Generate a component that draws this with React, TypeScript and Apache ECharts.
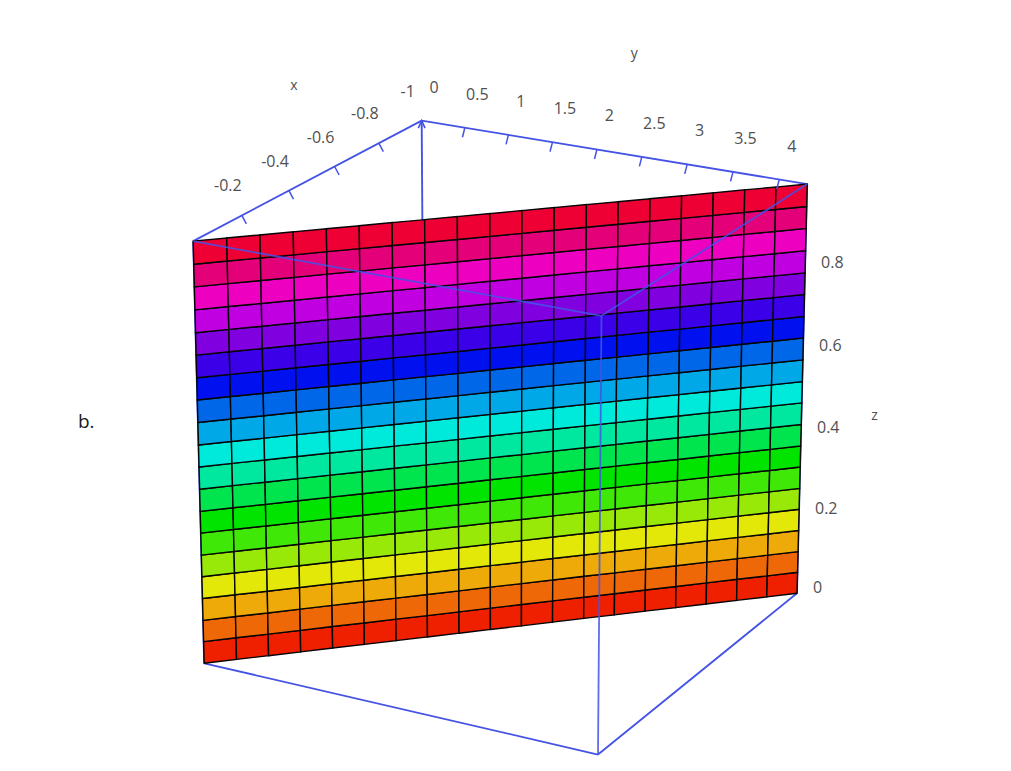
import React, { useEffect, useRef } from "react";
import * as echarts from "echarts";

// Surface samples: each column is an (x, y) pair on the diagonal plane, each row a height z
const surfaceX = [0, -0.053, -0.105, -0.158, -0.211, -0.263, -0.316, -0.368, -0.421, -0.474, -0.526, -0.579, -0.632, -0.684, -0.737, -0.789, -0.842, -0.895, -0.947, -1];
const surfaceY = [0, 0.226, 0.453, 0.679, 0.905, 1.132, 1.358, 1.584, 1.811, 2.037, 2.263, 2.489, 2.716, 2.942, 3.168, 3.395, 3.621, 3.847, 4.074, 4.3];
const surfaceZ = [0, 0.053, 0.105, 0.158, 0.211, 0.263, 0.316, 0.368, 0.421, 0.474, 0.526, 0.579, 0.632, 0.684, 0.737, 0.789, 0.842, 0.895, 0.947, 1];
const rowColors = [
  "#ee2000", "#ef6808", "#eeaa08", "#e4e808", "#98e808", "#40e808", "#00e400", "#00e44e", "#00e8a0", "#00eadc",
  "#00a8e8", "#0068e8", "#0010ee", "#3c00e8", "#8000e0", "#c000e0", "#ee00c0", "#e40078", "#ee0035",
];

// Axis ticks
const xTicks = [-0.8, -0.6, -0.4, -0.2];
const xLabels = [-1, -0.8, -0.6, -0.4, -0.2];
const yTicks = [0.5, 1, 1.5, 2, 2.5, 3, 3.5, 4];
const yLabels = [0, 0.5, 1, 1.5, 2, 2.5, 3, 3.5, 4];
const zLabels = [0, 0.2, 0.4, 0.6, 0.8];

const xRange = [-1, 0];
const yRange = [0, 4.3];
const zRange = [0, 1];

// Screen positions of the visible box corners, [u, v, w, px, py]; used only to calibrate the camera
const calibration = [
  [0, 0, 1, 421.7, 120.7],
  [1, 0, 1, 193.3, 241],
  [0, 1, 1, 807.5, 184],
  [1, 1, 1, 601, 316],
  [1, 0, 0, 204, 663.3],
  [0, 1, 0, 796.7, 593.3],
  [1, 1, 0, 598.5, 754.5],
];

function solveCamera(): number[] {
  const A: number[][] = [];
  const b: number[] = [];
  for (const [u, v, w, px, py] of calibration) {
    A.push([1, u, v, w, 0, 0, 0, 0, -px * u, -px * v, -px * w]);
    b.push(px);
    A.push([0, 0, 0, 0, 1, u, v, w, -py * u, -py * v, -py * w]);
    b.push(py);
  }
  const n = 11;
  const M: number[][] = [];
  for (let i = 0; i < n; i++) {
    const row: number[] = [];
    for (let j = 0; j < n; j++) {
      let s = 0;
      for (let k = 0; k < A.length; k++) s += A[k][i] * A[k][j];
      row.push(s);
    }
    let s = 0;
    for (let k = 0; k < A.length; k++) s += A[k][i] * b[k];
    row.push(s);
    M.push(row);
  }
  for (let c = 0; c < n; c++) {
    let p = c;
    for (let r = c + 1; r < n; r++) if (Math.abs(M[r][c]) > Math.abs(M[p][c])) p = r;
    [M[c], M[p]] = [M[p], M[c]];
    for (let r = 0; r < n; r++) {
      if (r === c) continue;
      const f = M[r][c] / M[c][c];
      for (let j = c; j <= n; j++) M[r][j] -= f * M[c][j];
    }
  }
  return M.map((r, i) => r[n] / r[i]);
}

const cam = solveCamera();

function project(x: number, y: number, z: number): number[] {
  const u = (x - xRange[0]) / (xRange[1] - xRange[0]);
  const v = (y - yRange[0]) / (yRange[1] - yRange[0]);
  const w = (z - zRange[0]) / (zRange[1] - zRange[0]);
  const d = 1 + cam[8] * u + cam[9] * v + cam[10] * w;
  return [(cam[0] + cam[1] * u + cam[2] * v + cam[3] * w) / d, (cam[4] + cam[5] * u + cam[6] * v + cam[7] * w) / d];
}

const AXIS = "#4453e4";
const TEXT = "#505050";
const FONT = '"Open Sans", "Noto Sans", sans-serif';

const [x0, x1] = xRange;
const [y0, y1] = yRange;
const [z0, z1] = zRange;

// Box edges hidden behind the surface
const backEdges = [
  [x0, y0, z0, x0, y0, z1],
  [x0, y0, z0, x1, y0, z0],
  [x0, y0, z0, x0, y1, z0],
];
// Box edges in front of or beside the surface
const outerEdges = [
  [x0, y0, z1, x1, y0, z1],
  [x0, y0, z1, x0, y1, z1],
  [x1, y0, z0, x1, y1, z0],
  [x0, y1, z0, x1, y1, z0],
  [x1, y0, z0, x1, y0, z1],
  [x0, y1, z0, x0, y1, z1],
];
const frontEdges = [
  [x1, y0, z1, x1, y1, z1],
  [x0, y1, z1, x1, y1, z1],
  [x1, y1, z0, x1, y1, z1],
];

const cells: number[][] = [];
for (let r = 0; r < surfaceZ.length - 1; r++) for (let c = 0; c < surfaceX.length - 1; c++) cells.push([c, r]);

type Lbl = { text: string; x: number; y: number; z: number; dx: number; dy: number; align: string; size: number };
const labels: Lbl[] = [
  ...xLabels.map((v) => ({ text: String(v), x: v, y: y0, z: z1, dx: -14, dy: -30, align: "center", size: 16 })),
  ...yLabels.map((v) => ({ text: String(v), x: x0, y: v, z: z1, dx: 12.5, dy: -34, align: "center", size: 16 })),
  ...zLabels.map((v) => ({ text: String(v), x: x0, y: y1, z: v, dx: 16, dy: -6, align: "left", size: 16 })),
  { text: "x", x: -0.5, y: y0, z: z1, dx: -18, dy: -94, align: "center", size: 14 },
  { text: "y", x: x0, y: 2.15, z: z1, dx: 24, dy: -99, align: "center", size: 14 },
  { text: "z", x: x0, y: y1, z: 0.44, dx: 73, dy: -2, align: "center", size: 14 },
];

const edgeSeries = (edges: number[][], z: number, opacity: number, width: number) => ({
  type: "custom",
  silent: true,
  z,
  data: edges,
  renderItem: (_p: any, api: any) => {
    const a = api.coord(project(api.value(0), api.value(1), api.value(2)));
    const b = api.coord(project(api.value(3), api.value(4), api.value(5)));
    return {
      type: "line",
      shape: { x1: a[0], y1: a[1], x2: b[0], y2: b[1] },
      style: { stroke: AXIS, lineWidth: width, opacity },
    };
  },
});

const tickSeries = (pts: number[][], dx: number, dy: number) => ({
  type: "custom",
  silent: true,
  z: 6,
  data: pts,
  renderItem: (_p: any, api: any) => {
    const a = api.coord(project(api.value(0), api.value(1), api.value(2)));
    return {
      type: "line",
      shape: { x1: a[0], y1: a[1], x2: a[0] + dx, y2: a[1] + dy },
      style: { stroke: AXIS, lineWidth: 1.5 },
    };
  },
});

export default function App() {
  const ref = useRef<HTMLDivElement>(null);
  useEffect(() => {
    if (!ref.current) return;
    const chart = echarts.init(ref.current, undefined, { renderer: "svg" });
    chart.setOption({
      animation: false,
      backgroundColor: "#ffffff",
      grid: { left: 0, right: 0, top: 0, bottom: 0 },
      xAxis: { type: "value", min: 0, max: 1011, show: false },
      yAxis: { type: "value", min: 0, max: 771, inverse: true, show: false },
      series: [
        edgeSeries(backEdges, 1, 1, 1.9),
        {
          type: "custom",
          silent: true,
          z: 2,
          data: [[x0, y0, z1]],
          renderItem: (_p: any, api: any) => {
            const a = api.coord(project(api.value(0), api.value(1), api.value(2)));
            return {
              type: "polyline",
              shape: { points: [[a[0] - 3.4, a[1] + 7.5], [a[0], a[1]], [a[0] + 3.4, a[1] + 7.5]] },
              style: { stroke: AXIS, lineWidth: 1.6, fill: "none" },
            };
          },
        },
        edgeSeries(outerEdges, 3, 1, 1.8),
        {
          type: "custom",
          silent: true,
          z: 4,
          data: cells,
          renderItem: (_p: any, api: any) => {
            const c = api.value(0);
            const r = api.value(1);
            const pt = (i: number, j: number) => api.coord(project(surfaceX[i], surfaceY[i], surfaceZ[j]));
            return {
              type: "polygon",
              shape: { points: [pt(c, r), pt(c + 1, r), pt(c + 1, r + 1), pt(c, r + 1)] },
              style: { fill: rowColors[r], stroke: "#050505", lineWidth: 1.4 },
            };
          },
        },
        edgeSeries(frontEdges, 5, 0.85, 1.8),
        tickSeries(xTicks.map((v) => [v, y0, z1]), 4.5, 8.5),
        tickSeries(yTicks.map((v) => [x0, v, z1]), -2.4, 9.5),
        {
          type: "custom",
          silent: true,
          z: 7,
          data: labels.map((l) => [l.x, l.y, l.z, l.dx, l.dy]),
          renderItem: (p: any, api: any) => {
            const l = labels[p.dataIndex];
            const a = api.coord(project(api.value(0), api.value(1), api.value(2)));
            return {
              type: "text",
              x: a[0] + api.value(3),
              y: a[1] + api.value(4),
              style: {
                text: l.text,
                fill: TEXT,
                font: `${l.size}px ${FONT}`,
                align: l.align,
                verticalAlign: "middle",
              },
            };
          },
        },
      ],
      graphic: [
        {
          type: "text",
          left: 78,
          top: 411,
          style: { text: "b.", fill: "#1a1a1a", font: `19px ${FONT}` },
        },
      ],
    });
    return () => chart.dispose();
  }, []);
  return <div ref={ref} style={{ position: "fixed", left: 0, top: 0, width: 1011, height: 771 }} />;
}
